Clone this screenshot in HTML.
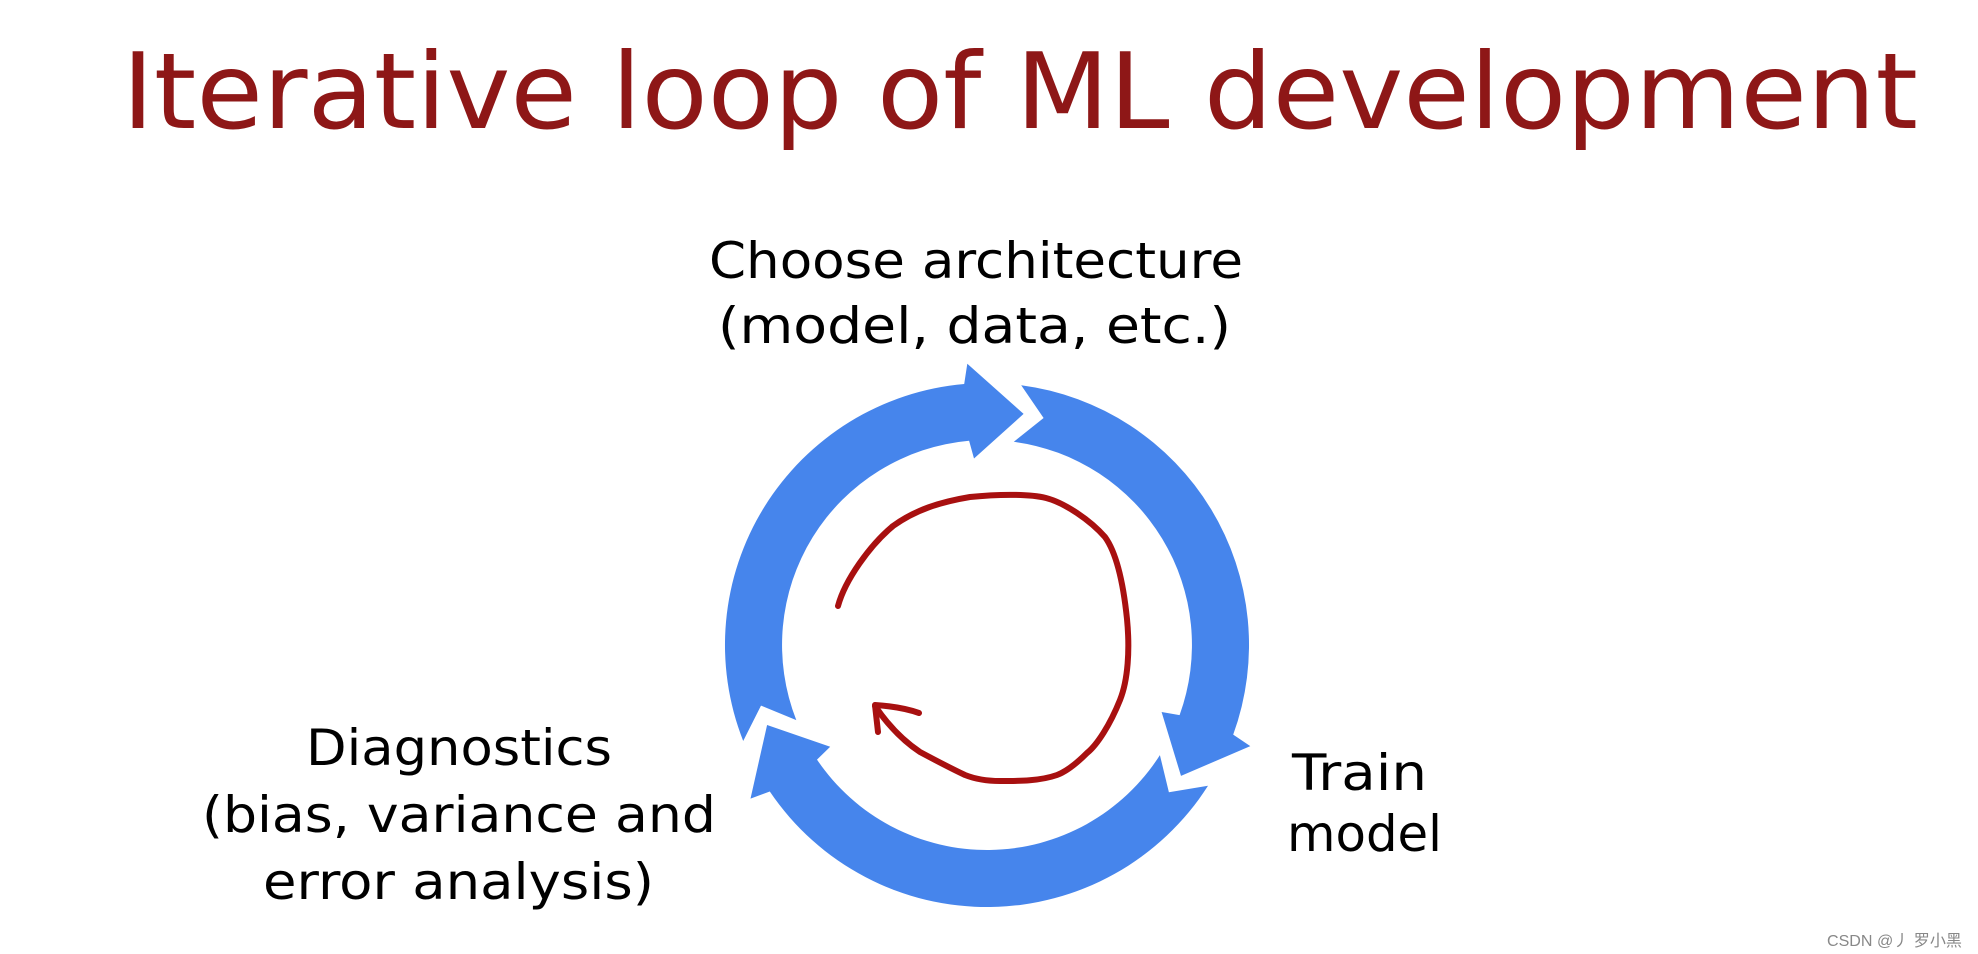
<!DOCTYPE html>
<html><head><meta charset="utf-8"><style>
html,body{margin:0;padding:0;background:#fff;}
svg{display:block}
</style></head><body>
<svg id="s" width="1978" height="954" viewBox="0 0 1978 954" xmlns="http://www.w3.org/2000/svg">
<rect width="1978" height="954" fill="#fff"/>
<text x="122" y="128" font-family="DejaVu Sans, Liberation Sans, sans-serif" font-size="105" fill="#8e1717" textLength="1796" lengthAdjust="spacingAndGlyphs">Iterative loop of ML development</text>
<g font-family="DejaVu Sans, Liberation Sans, sans-serif" font-size="50" fill="#000">
<text x="709" y="278" textLength="534" lengthAdjust="spacingAndGlyphs">Choose architecture</text>
<text x="718" y="343" textLength="513" lengthAdjust="spacingAndGlyphs">(model, data, etc.)</text>
<text x="306" y="765" textLength="306" lengthAdjust="spacingAndGlyphs">Diagnostics</text>
<text x="202" y="832" textLength="514" lengthAdjust="spacingAndGlyphs">(bias, variance and</text>
<text x="263" y="899" textLength="391" lengthAdjust="spacingAndGlyphs">error analysis)</text>
<text x="1292" y="790" textLength="135" lengthAdjust="spacingAndGlyphs">Train</text>
<text x="1287" y="851" textLength="155" lengthAdjust="spacingAndGlyphs">model</text>
</g>
<text x="1827" y="946" font-family="Liberation Sans, Noto Sans CJK SC, sans-serif" font-size="16" fill="#888" textLength="135" lengthAdjust="spacingAndGlyphs">CSDN @丿 罗小黑</text>
<g id="arrows" fill="#4685ec"></g>
<path d="M838,606 C845,580 870,545 893,526 C915,510 940,502 970,497 C1000,494 1030,494 1046,498 C1065,503 1090,520 1105,537 C1118,555 1124,590 1127,619 C1130,650 1128,680 1120,700 C1110,725 1097,745 1087,753 C1075,765 1065,772 1057,775 C1040,781 1020,781 1000,781 C985,781 975,779 965,775 C950,768 935,760 920,752 C905,742 890,728 875,706" fill="none" stroke="#a81010" stroke-width="6" stroke-linecap="round" stroke-linejoin="round"/>
<path d="M919,713 C905,708 890,706 875,705 L878,732" fill="none" stroke="#a81010" stroke-width="6" stroke-linecap="round" stroke-linejoin="round"/>
</svg>
<script>
(function(){
var cx=987,cy=645,Ro=262,Ri=205,Rm=234,Bo=282,Bi=187;
function P(a,r){var t=a*Math.PI/180;return (cx+r*Math.sin(t)).toFixed(1)+','+(cy-r*Math.cos(t)).toFixed(1);}
function arrow(ps,pe){
 var hb=pe-14,ts=ps-1.5;
 var large=(hb-ts)>180?1:0;
 var d='M'+P(ts,Ro)+' A'+Ro+','+Ro+' 0 '+large+' 1 '+P(hb,Ro)+' L'+P(hb+1,Bo)+' L'+P(pe,Rm)+' L'+P(hb+1,Bi)+' L'+P(hb,Ri)+' A'+Ri+','+Ri+' 0 '+large+' 0 '+P(ts,Ri)+' L'+P(ps+5,Rm)+' Z';
 var p=document.createElementNS('http://www.w3.org/2000/svg','path');p.setAttribute('d',d);
 document.getElementById('arrows').appendChild(p);
}
arrow(-110,9);arrow(9,124);arrow(124,250);
})();
</script>
</body></html>
